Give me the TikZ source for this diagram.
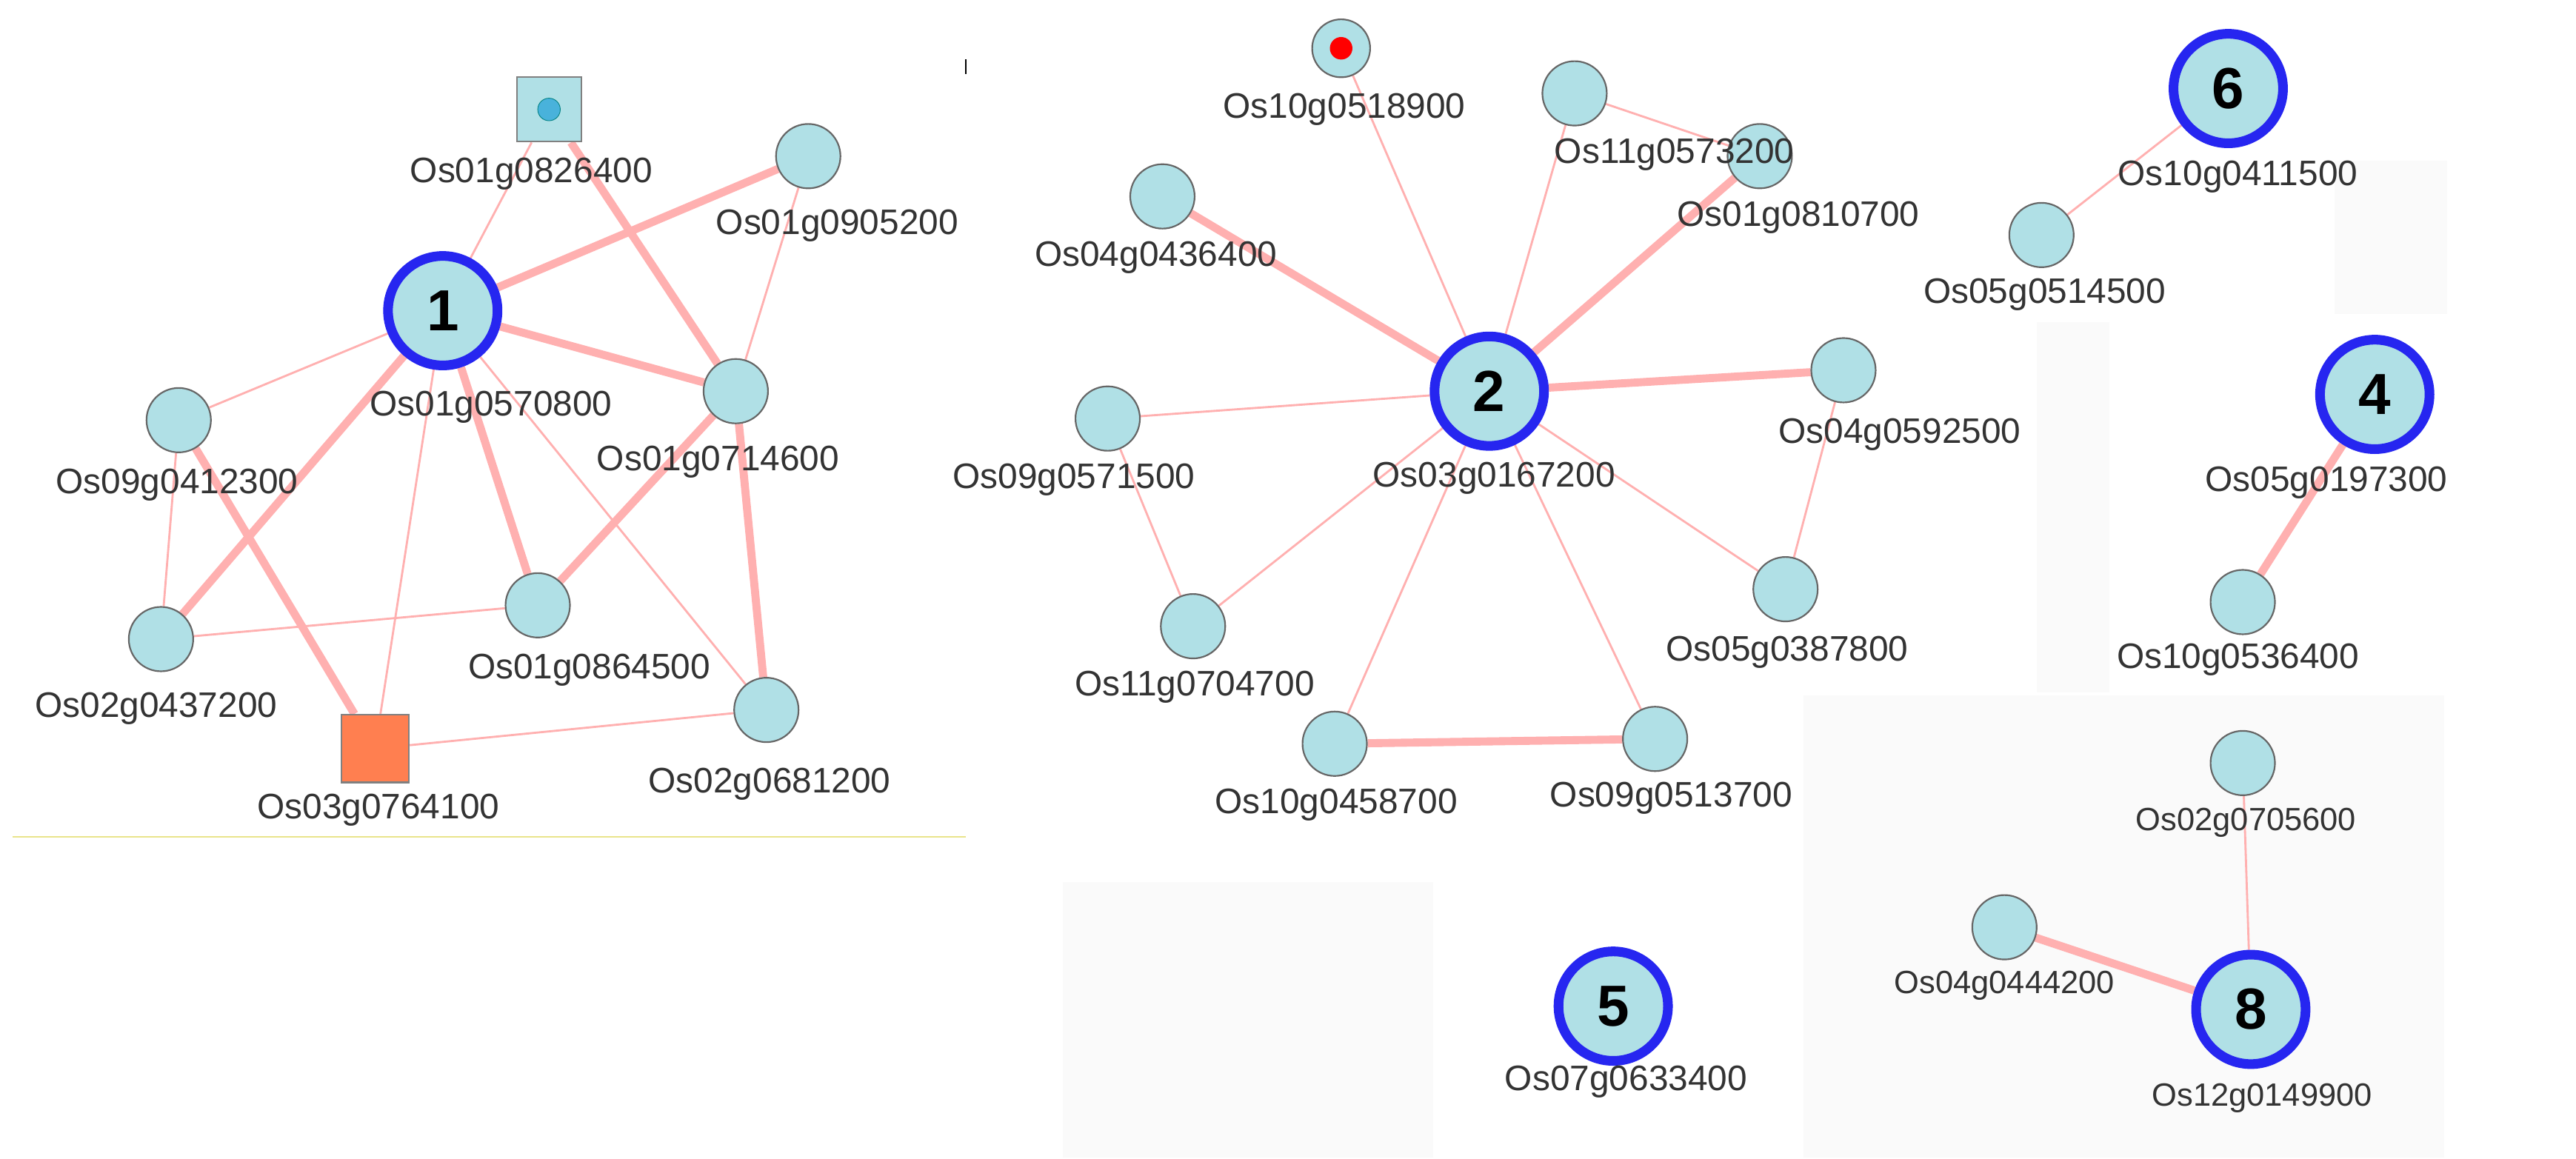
\documentclass[tikz,border=0pt]{standalone}
\usepackage{fontspec}
\setmainfont{Liberation Sans}
\definecolor{powder}{HTML}{B0E0E6}
\definecolor{hubblue}{HTML}{2626F0}
\definecolor{labgray}{HTML}{333333}
\definecolor{edgepink}{HTML}{FFB0B0}
\definecolor{coral}{HTML}{FF7F50}
\pgfdeclarelayer{bg}\pgfsetlayers{bg,main}
\begin{document}
\begin{tikzpicture}[x=1pt,y=-1pt,
  gene/.style={circle,draw=gray!80!black,fill=powder,line width=1pt,minimum size=40pt,inner sep=0pt},
  hub/.style={circle,draw=hubblue,fill=powder,line width=6pt,minimum size=68pt,inner sep=0pt,font=\fontsize{36}{36}\selectfont\bfseries},
  lab/.style={text=labgray,font=\fontsize{22}{24}\selectfont,inner sep=0pt},
  slab/.style={text=labgray,font=\fontsize{20}{22}\selectfont,inner sep=0pt},
  weak/.style={draw=edgepink,line width=1.3pt},
  strong/.style={draw=edgepink,line width=5pt}]
\useasboundingbox (0,0) rectangle (1600,719.5);
\begin{pgfonlayer}{bg}
\fill[white] (0,0) rectangle (1600,719.5);
\fill[black!2] (660,548) rectangle (890,719);
\fill[black!2] (1265,200) rectangle (1310,430);
\fill[black!2] (1120,432) rectangle (1518,719);
\fill[black!2] (1450,100) rectangle (1520,195);
\draw[yellow!50!olive!40,line width=1pt] (8,520) -- (600,520);
\draw[black,line width=1pt] (600,37) -- (600,46);
\end{pgfonlayer}
% graph 1
\node[draw=gray,fill=powder,line width=1pt,minimum size=40pt,inner sep=0pt] (sq1) at (341,68) {};
\fill[cyan!70!teal!80,draw=teal] (sq1) circle (7);
\node[lab] (lsq1) at (330,108) {Os01g0826400};
\node[gene] (a0905) at (502,97) {}; \node[lab] at (520,140) {Os01g0905200};
\node[hub] (h1) at (275,193) {1}; \node[lab] at (305,253) {Os01g0570800};
\node[gene] (a0714) at (457,243) {}; \node[lab] at (446,287) {Os01g0714600};
\node[gene] (a0412) at (111,261) {}; \node[lab] at (110,301) {Os09g0412300};
\node[gene] (a0864) at (334,376) {}; \node[lab] at (366,416) {Os01g0864500};
\node[gene] (a0437) at (100,397) {}; \node[lab] at (97,440) {Os02g0437200};
\node[draw=gray,fill=coral,line width=1pt,minimum size=42pt,inner sep=0pt] (sq2) at (233,465) {};
\node[lab] at (235,503) {Os03g0764100};
\node[gene] (a0681) at (476,441) {}; \node[lab] at (478,487) {Os02g0681200};
\begin{pgfonlayer}{bg}
\path[weak] (sq1)--(h1) (a0905)--(a0714) (h1)--(a0412) (h1)--(sq2) (a0412)--(a0437) (h1)--(a0681) (a0437)--(a0864) (sq2)--(a0681);
\path[strong] (sq1)--(a0714) (h1)--(a0905) (h1)--(a0714) (h1)--(a0864) (h1)--(a0437) (a0412)--(sq2) (a0714)--(a0864) (a0714)--(a0681);
\end{pgfonlayer}
% graph 2
\node[hub] (h2) at (925,243) {2}; \node[lab] at (928,297) {Os03g0167200};
\node[gene,minimum size=36pt] (b0518) at (833,30) {}; \fill[red] (b0518) circle (7);
\node[lab] at (835,68) {Os10g0518900};
\node[gene] (b0573) at (978,58) {};
\node[gene] (b0810) at (1093,97) {}; \node[lab] at (1117,135) {Os01g0810700};
\node[lab] at (1040,96) {Os11g0573200};
\node[gene] (b0436) at (722,122) {}; \node[lab] at (718,160) {Os04g0436400};
\node[gene] (b0592) at (1145,230) {}; \node[lab] at (1180,270) {Os04g0592500};
\node[gene] (b0571) at (688,260) {}; \node[lab] at (667,298) {Os09g0571500};
\node[gene] (b0387) at (1109,366) {}; \node[lab] at (1110,405) {Os05g0387800};
\node[gene] (b0704) at (741,389) {}; \node[lab] at (742,427) {Os11g0704700};
\node[gene] (b0458) at (829,462) {}; \node[lab] at (830,500) {Os10g0458700};
\node[gene] (b0513) at (1028,459) {}; \node[lab] at (1038,496) {Os09g0513700};
\begin{pgfonlayer}{bg}
\path[weak] (h2)--(b0518) (h2)--(b0573) (b0573)--(b0810) (h2)--(b0571) (b0592)--(b0387) (h2)--(b0387) (b0571)--(b0704) (h2)--(b0704) (h2)--(b0458) (h2)--(b0513);
\path[strong] (h2)--(b0810) (h2)--(b0436) (h2)--(b0592) (b0458)--(b0513);
\end{pgfonlayer}
% graph 6
\node[hub] (h6) at (1384,55) {6}; \node[lab] at (1390,110) {Os10g0411500};
\node[gene] (c0514) at (1268,146) {}; \node[lab] at (1270,183) {Os05g0514500};
% graph 4
\node[hub] (h4) at (1475,245) {4}; \node[lab] at (1445,300) {Os05g0197300};
\node[gene] (d0536) at (1393,374) {}; \node[lab] at (1390,410) {Os10g0536400};
% graph 8
\node[gene] (e0705) at (1393,474) {}; \node[slab] at (1395,511) {Os02g0705600};
\node[hub] (h8) at (1398,627) {8}; \node[slab] at (1405,682) {Os12g0149900};
\node[gene] (e0444) at (1245,576) {}; \node[slab] at (1245,612) {Os04g0444200};
% graph 5
\node[hub] (h5) at (1002,625) {5}; \node[lab] at (1010,672) {Os07g0633400};
\begin{pgfonlayer}{bg}
\path[weak] (h6)--(c0514) (e0705)--(h8);
\path[strong] (h4)--(d0536) (e0444)--(h8);
\end{pgfonlayer}
\end{tikzpicture}
\end{document}
